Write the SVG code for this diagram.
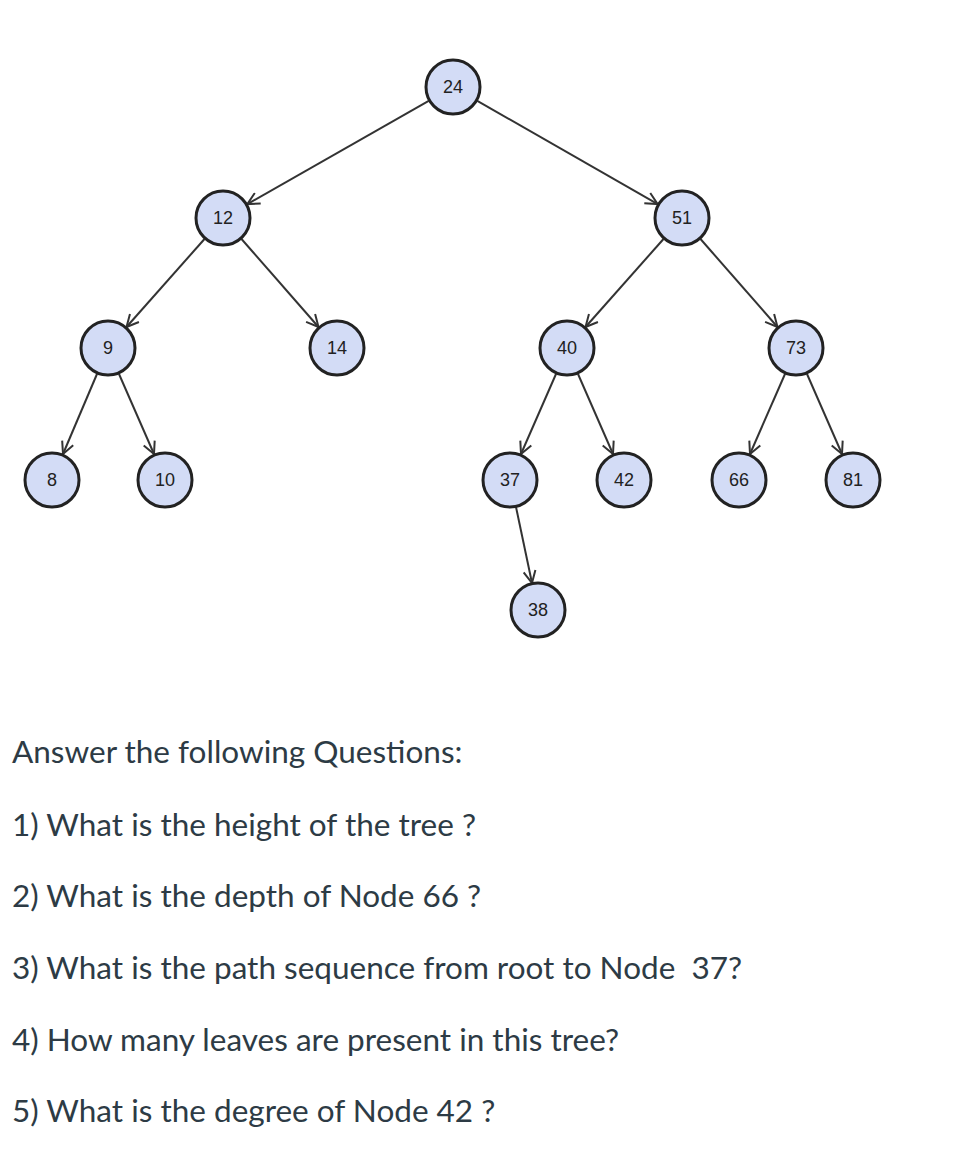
<svg xmlns="http://www.w3.org/2000/svg" width="976" height="1156" viewBox="0 0 976 1156">
<style>
.n circle{fill:#d3dcf6;stroke:#222;stroke-width:3}
.n text{font-family:"Liberation Sans",Arial,sans-serif;font-size:18px;fill:#222;text-anchor:middle;dominant-baseline:central}
.e line{stroke:#333;stroke-width:2;marker-end:url(#a)}
.q{font-family:Lato,"Liberation Sans",sans-serif;font-size:31.5px;fill:#2d3b45}
</style>
<defs><marker id="a" viewBox="0 0 14 14" refX="13" refY="7" markerWidth="14" markerHeight="14" markerUnits="userSpaceOnUse" orient="auto"><path d="M1,1 L13,7 L1,13" fill="none" stroke="#333" stroke-width="2"/></marker></defs>
<rect width="976" height="1156" fill="#fff"/>
<g class="e" id="edges">
<line x1="428.7" y1="100.9" x2="247.3" y2="204.1"/>
<line x1="477.3" y1="100.9" x2="657.7" y2="204.1"/>
<line x1="204.5" y1="239" x2="126.5" y2="327"/>
<line x1="241.5" y1="239" x2="318.5" y2="327"/>
<line x1="663.5" y1="239" x2="585.5" y2="327"/>
<line x1="700.5" y1="239" x2="777.5" y2="327"/>
<line x1="97" y1="374" x2="63" y2="454"/>
<line x1="119" y1="374" x2="154" y2="454"/>
<line x1="556" y1="374" x2="521" y2="454"/>
<line x1="578" y1="374" x2="613" y2="454"/>
<line x1="785" y1="374" x2="750" y2="454"/>
<line x1="807" y1="374" x2="842" y2="454"/>
<line x1="516" y1="507" x2="532" y2="583"/>
</g>
<g class="n" id="n24"><circle cx="453" cy="87" r="27"/><text x="453" y="87">24</text></g>
<g class="n" id="n12"><circle cx="223" cy="218" r="27"/><text x="223" y="218">12</text></g>
<g class="n" id="n51"><circle cx="682" cy="218" r="27"/><text x="682" y="218">51</text></g>
<g class="n" id="n9"><circle cx="108" cy="348" r="27"/><text x="108" y="348">9</text></g>
<g class="n" id="n14"><circle cx="337" cy="348" r="27"/><text x="337" y="348">14</text></g>
<g class="n" id="n40"><circle cx="567" cy="348" r="27"/><text x="567" y="348">40</text></g>
<g class="n" id="n73"><circle cx="796" cy="348" r="27"/><text x="796" y="348">73</text></g>
<g class="n" id="n8"><circle cx="52" cy="480" r="27"/><text x="52" y="480">8</text></g>
<g class="n" id="n10"><circle cx="165" cy="480" r="27"/><text x="165" y="480">10</text></g>
<g class="n" id="n37"><circle cx="510" cy="480" r="27"/><text x="510" y="480">37</text></g>
<g class="n" id="n42"><circle cx="624" cy="480" r="27"/><text x="624" y="480">42</text></g>
<g class="n" id="n66"><circle cx="739" cy="480" r="27"/><text x="739" y="480">66</text></g>
<g class="n" id="n81"><circle cx="853" cy="480" r="27"/><text x="853" y="480">81</text></g>
<g class="n" id="n38"><circle cx="538" cy="610" r="27"/><text x="538" y="610">38</text></g>
<text class="q" x="12" y="763">Answer the following Questions:</text>
<text class="q" x="12" y="836">1) What is the height of the tree ?</text>
<text class="q" x="12" y="907">2) What is the depth of Node 66 ?</text>
<text class="q" x="12" y="979" xml:space="preserve">3) What is the path sequence from root to Node  37?</text>
<text class="q" x="12" y="1051">4) How many leaves are present in this tree?</text>
<text class="q" x="12" y="1122">5) What is the degree of Node 42 ?</text>
</svg>
